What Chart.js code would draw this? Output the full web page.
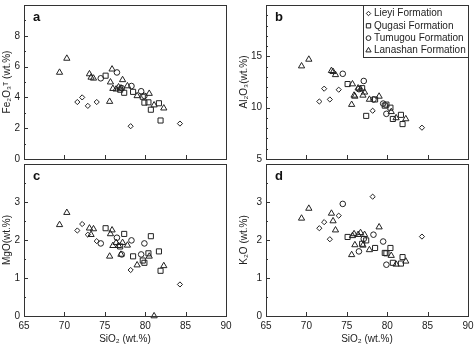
<!DOCTYPE html>
<html>
<head>
<meta charset="utf-8">
<title>Major oxides vs SiO2</title>
<script src="https://cdn.jsdelivr.net/npm/chart.js@4.4.1/dist/chart.umd.min.js"></script>
<style>
  body { margin: 0; background: #fff; }
  #wrap { position: relative; width: 474px; height: 345px; overflow: hidden; }
  canvas { position: absolute; }
</style>
</head>
<body>
<div id="wrap">
  <canvas id="chart-a" width="237" height="170" style="left:0;top:0"></canvas>
  <canvas id="chart-b" width="237" height="170" style="left:237px;top:0"></canvas>
  <canvas id="chart-c" width="237" height="186" style="left:0;top:159px"></canvas>
  <canvas id="chart-d" width="237" height="186" style="left:237px;top:159px"></canvas>
</div>
<script>
// *******************  data (wt.%)

let formations = ['Lieyi Formation', 'Qugasi Formation', 'Tumugou Formation', 'Lanashan Formation'];

let xTicks = [65, 70, 75, 80, 85, 90];
let feTicks = [0, 2, 4, 6, 8, 10];
let alTicks = [5, 10, 15, 20];
let mgTicks = [0, 1, 2, 3, 4];
let kTicks = [0, 1, 2, 3, 4];

let lieyiSiO2 = [71.6, 72.2, 72.9, 74.0, 78.2, 84.3];
let lieyiFe2O3 = [3.7, 4.0, 3.45, 3.7, 2.13, 2.3];
let lieyiAl2O3 = [10.6, 11.85, 10.8, 11.75, 9.7, 8.05];
let lieyiMgO = [2.25, 2.42, 2.14, 1.97, 1.21, 0.83];
let lieyiK2O = [2.31, 2.47, 2.02, 2.64, 3.14, 2.09];

let qugasiSiO2 = [75.1, 76.9, 77.4, 78.5, 79.7, 79.9, 80.4, 80.7, 81.7, 81.9];
let qugasiFe2O3 = [5.41, 4.5, 4.3, 4.36, 4.04, 3.66, 3.68, 3.2, 3.62, 2.5];
let qugasiAl2O3 = [12.3, 11.9, 9.2, 10.8, 10.2, 10.3, 10.0, 8.9, 9.3, 8.4];
let qugasiMgO = [2.31, 1.83, 2.16, 1.57, 1.46, 1.40, 1.65, 2.10, 1.70, 1.19];
let qugasiK2O = [2.08, 1.90, 1.99, 1.79, 1.66, 1.65, 1.79, 1.40, 1.38, 1.55];

let tumugouSiO2 = [74.5, 76.5, 77.1, 78.3, 79.5, 79.9];
let tumugouFe2O3 = [5.24, 5.62, 4.6, 4.74, 4.4, 4.1];
let tumugouAl2O3 = [13.3, 11.8, 12.6, 10.8, 10.4, 9.4];
let tumugouMgO = [1.91, 2.06, 1.62, 1.99, 1.62, 1.91];
let tumugouK2O = [2.95, 1.70, 2.03, 2.14, 1.96, 1.35];

let lanashanSiO2 = [69.4, 70.3, 73.1, 73.3, 73.6, 75.6, 75.7, 75.9, 76.0, 76.4, 76.7, 77.0, 77.2, 77.8, 79.0, 80.5, 81.1, 82.3];
let lanashanFe2O3 = [5.62, 6.53, 5.52, 5.30, 5.24, 3.73, 4.99, 5.83, 4.57, 4.53, 4.67, 4.60, 5.14, 4.74, 4.10, 4.25, 3.50, 3.30];
let lanashanAl2O3 = [14.05, 14.7, 13.6, 13.5, 13.2, 10.3, 12.3, 11.2, 11.1, 11.9, 11.8, 11.2, 11.5, 10.8, 11.1, 9.6, 9.0, 8.9];
let lanashanMgO = [2.40, 2.72, 2.31, 2.14, 2.29, 1.57, 2.16, 2.26, 1.85, 1.93, 1.85, 1.62, 1.93, 1.86, 1.34, 1.57, 0.0, 1.32];
let lanashanK2O = [2.57, 2.83, 2.70, 2.50, 2.26, 1.61, 2.11, 2.16, 1.87, 2.14, 2.19, 1.86, 2.14, 1.74, 2.34, 1.59, 1.36, 1.44];

let silica = [lieyiSiO2, qugasiSiO2, tumugouSiO2, lanashanSiO2];

// *******************  styles

let ink = '#222';
let markers = ['rectRot', 'rect', 'circle', 'triangle'];
let markerSize = [2.6, 3.6, 2.8, 3.6];
let fontFamily = '"Liberation Sans", Arial, sans-serif';

Chart.defaults.font.family = fontFamily;
Chart.defaults.font.size = 10;
Chart.defaults.color = ink;

// *******************  panels

let panels = [
  { id: 'chart-a', letter: 'a', title: 'Fe₂O₃ᵀ (wt.%)', ticks: feTicks, minor: 1,
    values: [lieyiFe2O3, qugasiFe2O3, tumugouFe2O3, lanashanFe2O3],
    bottom: false, legend: false, yWidth: 24, xHeight: 11, padRight: 11 },
  { id: 'chart-b', letter: 'b', title: 'Al₂O₃(wt.%)', ticks: alTicks, minor: 1,
    values: [lieyiAl2O3, qugasiAl2O3, tumugouAl2O3, lanashanAl2O3],
    bottom: false, legend: true, yWidth: 29, xHeight: 11, padRight: 6 },
  { id: 'chart-c', letter: 'c', title: 'MgO(wt.%)', ticks: mgTicks, minor: 0.5,
    values: [lieyiMgO, qugasiMgO, tumugouMgO, lanashanMgO],
    bottom: true, legend: false, yWidth: 24, xHeight: 29, padRight: 11 },
  { id: 'chart-d', letter: 'd', title: 'K₂O (wt.%)', ticks: kTicks, minor: 0.5,
    values: [lieyiK2O, qugasiK2O, tumugouK2O, lanashanK2O],
    bottom: true, legend: false, yWidth: 29, xHeight: 29, padRight: 6 }
];

// *******************  helpers

function points(xs, ys){
  return xs.map((x, i) => ({ x: x, y: ys[i] }));
}

// small copy of the point shapes for the legend box
function drawMarker(ctx, style, cx, cy, r){
  ctx.beginPath();
  if (style === 'rectRot'){
    ctx.moveTo(cx, cy - r);
    ctx.lineTo(cx + r, cy);
    ctx.lineTo(cx, cy + r);
    ctx.lineTo(cx - r, cy);
    ctx.closePath();
  } else if (style === 'rect'){
    let h = r * Math.SQRT1_2;
    ctx.rect(cx - h, cy - h, 2 * h, 2 * h);
  } else if (style === 'circle'){
    ctx.arc(cx, cy, r, 0, Math.PI * 2);
  } else {
    ctx.moveTo(cx, cy - r);
    ctx.lineTo(cx + r * 0.866, cy + r * 0.5);
    ctx.lineTo(cx - r * 0.866, cy + r * 0.5);
    ctx.closePath();
  }
  ctx.stroke();
}

// box frame, inward ticks, panel letter and legend
let framePlugin = {
  id: 'frame',
  afterDraw(chart, args, opts){
    let ctx = chart.ctx;
    let a = chart.chartArea;
    let xs = chart.scales.x;
    let ys = chart.scales.y;
    ctx.save();
    ctx.strokeStyle = '#333';
    ctx.lineWidth = 1;
    ctx.strokeRect(a.left + 0.5, a.top + 0.5, a.right - a.left, a.bottom - a.top);

    ctx.beginPath();
    xTicks.forEach(v => {
      let px = Math.round(xs.getPixelForValue(v)) + 0.5;
      ctx.moveTo(px, a.bottom);
      ctx.lineTo(px, a.bottom - 4);
    });
    let step = opts.ticks[1] - opts.ticks[0];
    for (let v = ys.min; v <= ys.max + 1e-9; v += opts.minor){
      let py = Math.round(ys.getPixelForValue(v)) + 0.5;
      let k = (v - ys.min) / step;
      let major = Math.abs(k - Math.round(k)) < 1e-6;
      ctx.moveTo(a.left, py);
      ctx.lineTo(a.left + (major ? 4 : 2), py);
    }
    ctx.stroke();

    ctx.fillStyle = '#111';
    ctx.font = 'bold 13px ' + fontFamily;
    ctx.textBaseline = 'alphabetic';
    ctx.textAlign = 'left';
    ctx.fillText(opts.letter, a.left + 9, a.top + 16);

    if (opts.legend){
      let bx = a.right - 105;
      let by = a.top;
      ctx.strokeStyle = '#333';
      ctx.strokeRect(bx + 0.5, by + 0.5, 105, 52);
      ctx.font = '10px ' + fontFamily;
      ctx.textBaseline = 'middle';
      ctx.fillStyle = ink;
      formations.forEach((name, i) => {
        let cy = by + 8.5 + i * 12.3;
        ctx.strokeStyle = ink;
        drawMarker(ctx, markers[i], bx + 5.5, cy, markerSize[i] * 0.85);
        ctx.fillText(name, bx + 11, cy);
      });
    }
    ctx.restore();
  }
};

// *******************  charts

function makeChart(p){
  let datasets = formations.map((name, i) => ({
    label: name,
    data: points(silica[i], p.values[i]),
    pointStyle: markers[i],
    pointRadius: markerSize[i],
    pointBorderColor: ink,
    pointBackgroundColor: 'rgba(0,0,0,0)',
    pointBorderWidth: 1,
    clip: false
  }));

  return new Chart(document.getElementById(p.id), {
    type: 'scatter',
    data: { datasets: datasets },
    options: {
      responsive: false,
      animation: false,
      events: [],
      layout: { padding: { left: 0, top: 0, right: p.padRight, bottom: 0 } },
      plugins: {
        legend: { display: false },
        tooltip: { enabled: false },
        frame: { letter: p.letter, ticks: p.ticks, minor: p.minor, legend: p.legend }
      },
      scales: {
        x: {
          type: 'linear',
          min: xTicks[0],
          max: xTicks[xTicks.length - 1],
          grid: { display: false, drawTicks: false },
          border: { display: false },
          afterBuildTicks: s => { s.ticks = xTicks.map(v => ({ value: v })); },
          ticks: { display: p.bottom, padding: 4, maxRotation: 0 },
          title: { display: p.bottom, text: 'SiO₂ (wt.%)', padding: 0 },
          afterFit: s => { s.height = p.xHeight; s.paddingLeft = 0; s.paddingRight = 0; }
        },
        y: {
          type: 'linear',
          min: p.ticks[0],
          max: p.ticks[p.ticks.length - 1],
          grid: { display: false, drawTicks: false },
          border: { display: false },
          afterBuildTicks: s => { s.ticks = p.ticks.map(v => ({ value: v })); },
          ticks: {
            padding: 4,
            callback: (v, i, t) => (i === t.length - 1 ? null : v)
          },
          title: { display: true, text: p.title, padding: { top: 1, bottom: 0 } },
          afterFit: s => { s.width = p.yWidth; s.paddingTop = 0; s.paddingBottom = 0; }
        }
      }
    },
    plugins: [framePlugin]
  });
}

panels.forEach(makeChart);
</script>
</body>
</html>
